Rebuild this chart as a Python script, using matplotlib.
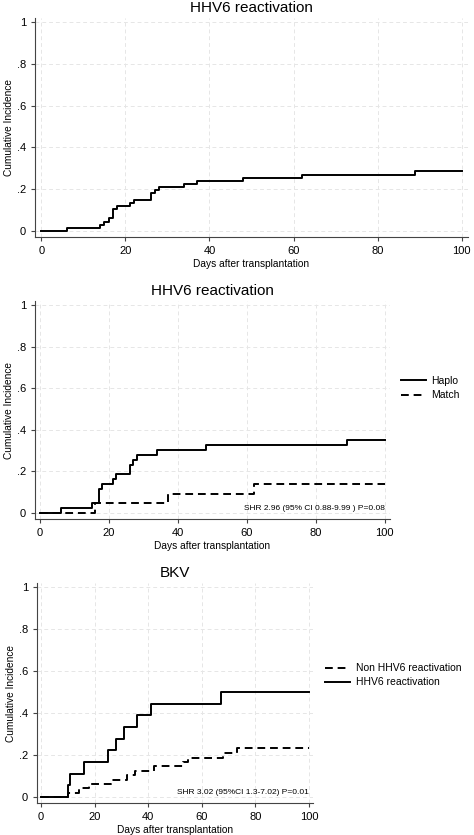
import matplotlib
matplotlib.use("Agg")
import matplotlib.pyplot as plt

plt.rcParams['font.family'] = ['Liberation Sans', 'DejaVu Sans']

# Panel 1
p1_t = [0, 6, 14, 15, 16, 17, 18, 21, 22, 26, 27, 28, 34, 37, 48, 62, 89, 100]
p1_v = [0, .015, .03, .045, .06, .105, .12, .135, .15, .18, .195, .21, .225, .24, .255, .27, .285, .285]
# Panel 2
haplo_t = [0, 6, 15, 17, 18, 21, 22, 26, 27, 28, 34, 48, 89, 100]
haplo_v = [0, .023, .047, .116, .14, .163, .186, .233, .256, .28, .302, .326, .35, .35]
match_t = [0, 16, 37, 62, 100]
match_v = [0, .047, .093, .14, .14]
# Panel 3
hhv6_t = [0, 10, 11, 16, 25, 28, 31, 36, 41, 67, 100]
hhv6_v = [0, .056, .111, .167, .222, .278, .333, .389, .444, .5, .5]
non_t = [0, 10, 14, 18, 26, 32, 35, 42, 53, 55, 68, 73, 100]
non_v = [0, .021, .042, .063, .083, .104, .125, .146, .167, .188, .208, .234, .234]

yticks = [0, .2, .4, .6, .8, 1]
ylabels = ['0', '.2', '.4', '.6', '.8', '1']
xticks = [0, 20, 40, 60, 80, 100]

W, H = 474, 835
fig = plt.figure(figsize=(W/100, H/100), dpi=100)

def make_ax(left, right, y1px, y0px, title):
    ppu = (y0px - y1px)
    ymin, ymax = -0.03, 1.02
    bot = y0px + (0 - ymin) * ppu
    top = y1px - (ymax - 1) * ppu
    ax = fig.add_axes([left/W, 1 - bot/H, (right-left)/W, (bot-top)/H])
    ax.set_xlim(-1.5, 101.5)
    ax.set_ylim(ymin, ymax)
    ax.set_xticks(xticks)
    ax.set_yticks(yticks)
    ax.set_yticklabels(ylabels)
    ax.spines['top'].set_visible(False)
    ax.spines['right'].set_visible(False)
    for s in ('left', 'bottom'):
        ax.spines[s].set_color('#444444')
    ax.tick_params(labelsize=8, color='#444444', length=3)
    ax.grid(True, color='#e6e6e6', linestyle=(0, (4, 3)), linewidth=0.7)
    ax.set_xlabel('Days after transplantation', fontsize=7.3, labelpad=2)
    ax.set_ylabel('Cumulative Incidence', fontsize=7.3, labelpad=2)
    ax.set_title(title, fontsize=11, pad=4)
    return ax

ax1 = make_ax(35, 468, 22, 231, 'HHV6 reactivation')
ax1.step(p1_t, p1_v, where='post', color='black', lw=1.4)

ax2 = make_ax(35, 390, 305, 513, 'HHV6 reactivation')
ax2.step(haplo_t, haplo_v, where='post', color='black', lw=1.4, label='Haplo')
ax2.step(match_t, match_v, where='post', color='black', lw=1.4, ls=(0, (4, 2.5)), label='Match')
ax2.text(100, 0.005, 'SHR 2.96 (95% CI 0.88-9.99 ) P=0.08', ha='right', va='bottom', fontsize=6)
ax2.legend(loc='center left', bbox_to_anchor=(1.03, 0.6), frameon=False, fontsize=7.5,
           handlelength=2.4, handletextpad=0.5, borderaxespad=0, borderpad=0, labelspacing=0.4)

ax3 = make_ax(37, 313, 587, 797, 'BKV')
ax3.step(non_t, non_v, where='post', color='black', lw=1.4, ls=(0, (4, 2.5)), label='Non HHV6 reactivation')
ax3.step(hhv6_t, hhv6_v, where='post', color='black', lw=1.4, label='HHV6 reactivation')
ax3.text(100, 0.005, 'SHR 3.02 (95%CI 1.3-7.02) P=0.01', ha='right', va='bottom', fontsize=6)
ax3.legend(loc='center left', bbox_to_anchor=(1.045, 0.58), frameon=False, fontsize=7.5,
           handlelength=2.4, handletextpad=0.5, borderaxespad=0, borderpad=0, labelspacing=0.4)

fig.savefig('out.png', dpi=100, facecolor='white')
